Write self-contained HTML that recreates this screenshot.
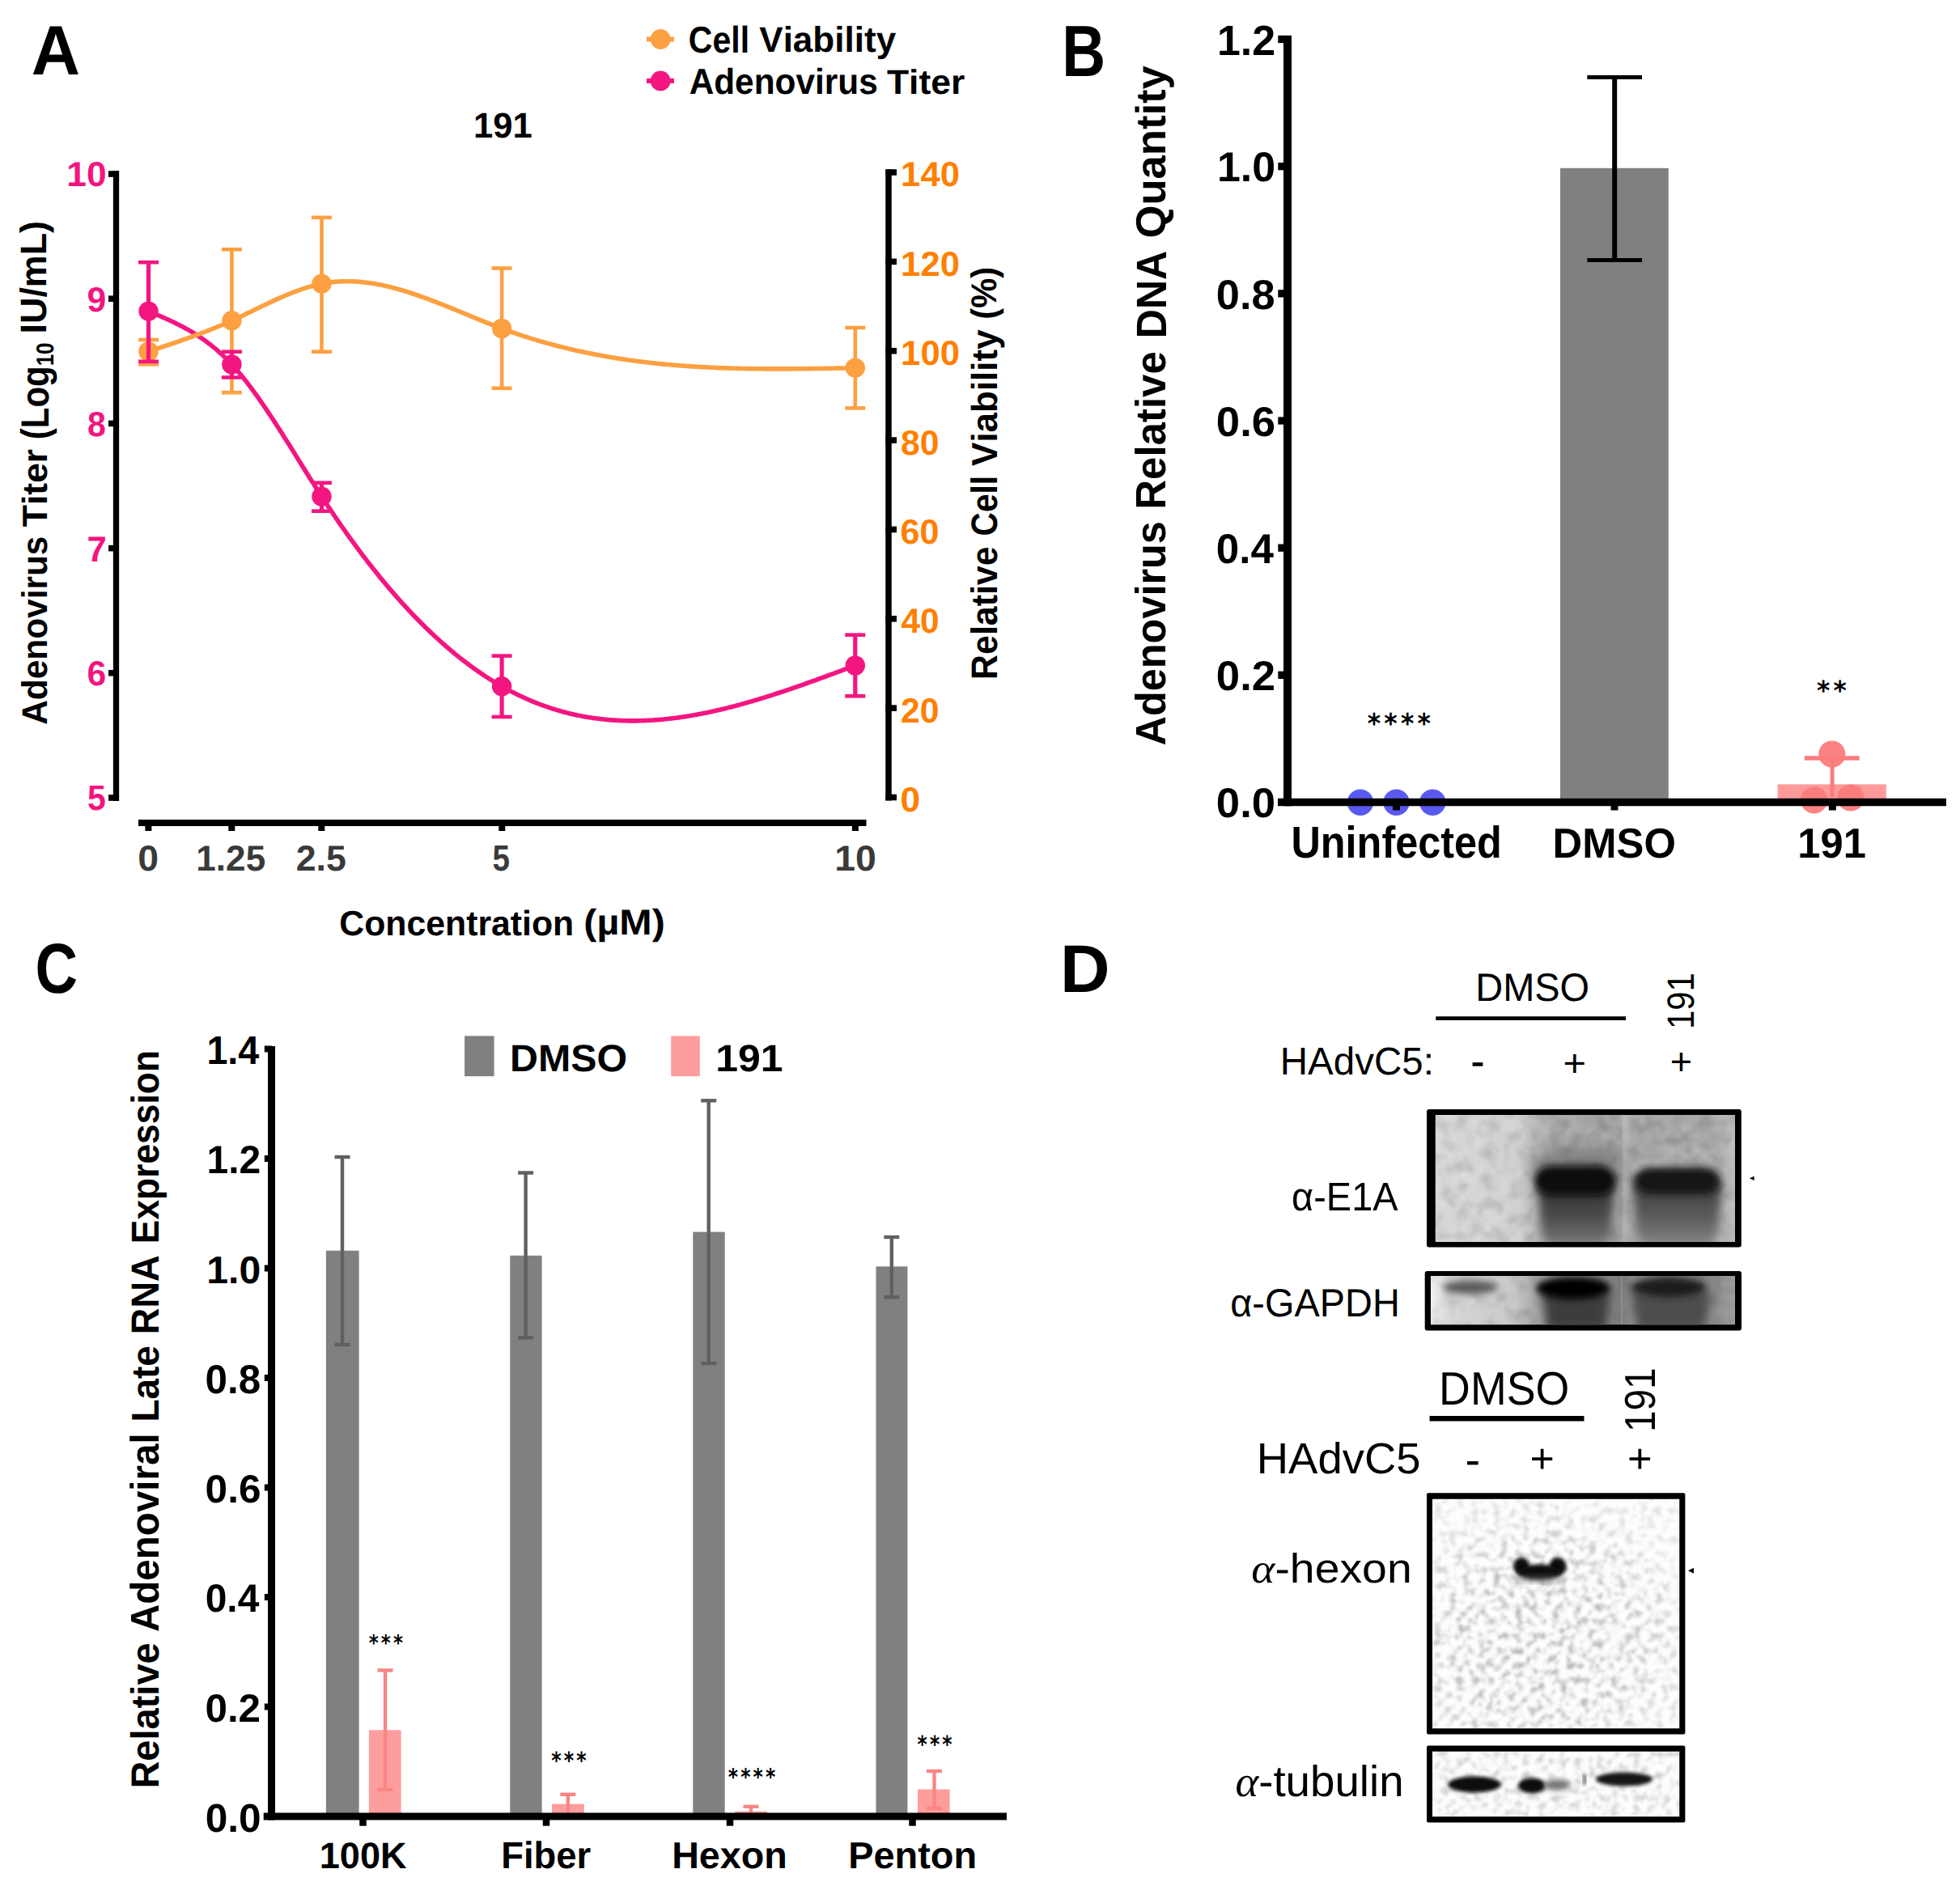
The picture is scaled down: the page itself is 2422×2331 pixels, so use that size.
<!DOCTYPE html>
<html><head><meta charset="utf-8"><title>Figure</title>
<style>html,body{margin:0;padding:0;background:#fff;}svg{display:block;font-kerning:none;text-rendering:geometricPrecision;}</style>
</head><body>
<svg xmlns="http://www.w3.org/2000/svg" width="2422" height="2331" viewBox="0 0 2422 2331">
<rect width="2422" height="2331" fill="#fff"/>
<text font-family='"Liberation Sans", sans-serif' font-weight="bold" font-style="normal" font-size="100" fill="#000" transform="translate(38.80,91.80) scale(0.8348,0.8652)">A</text>
<line x1="799" y1="48.5" x2="833" y2="48.5" stroke="#FCA042" stroke-width="6" stroke-linecap="butt"/>
<circle cx="816.2" cy="48.5" r="12.4" fill="#FCA042" />
<line x1="799" y1="99.9" x2="833" y2="99.9" stroke="#F41680" stroke-width="6" stroke-linecap="butt"/>
<circle cx="816.2" cy="99.9" r="12.4" fill="#F41680" />
<text font-family='"Liberation Sans", sans-serif' font-weight="bold" font-style="normal" font-size="100" fill="#000" transform="translate(850.76,65.04) scale(0.4105,0.4616)">Cell</text>
<text font-family='"Liberation Sans", sans-serif' font-weight="bold" font-style="normal" font-size="100" fill="#000" transform="translate(938.26,63.54) scale(0.4404,0.4409)">Viability</text>
<text font-family='"Liberation Sans", sans-serif' font-weight="bold" font-style="normal" font-size="100" fill="#000" transform="translate(851.63,115.95) scale(0.4238,0.4452)">Adenovirus</text>
<text font-family='"Liberation Sans", sans-serif' font-weight="bold" font-style="normal" font-size="100" fill="#000" transform="translate(1095.96,115.77) scale(0.4439,0.4260)">Titer</text>
<text font-family='"Liberation Sans", sans-serif' font-weight="bold" font-style="normal" font-size="100" fill="#000" transform="translate(584.88,169.96) scale(0.4361,0.4380)">191</text>
<line x1="143.5" y1="211" x2="143.5" y2="990" stroke="#000" stroke-width="7.3" stroke-linecap="butt"/>
<line x1="134" y1="215.0" x2="147" y2="215.0" stroke="#000" stroke-width="7.6" stroke-linecap="butt"/>
<line x1="134" y1="369.2" x2="147" y2="369.2" stroke="#000" stroke-width="7.6" stroke-linecap="butt"/>
<line x1="134" y1="523.4" x2="147" y2="523.4" stroke="#000" stroke-width="7.6" stroke-linecap="butt"/>
<line x1="134" y1="677.5999999999999" x2="147" y2="677.5999999999999" stroke="#000" stroke-width="7.6" stroke-linecap="butt"/>
<line x1="134" y1="831.8" x2="147" y2="831.8" stroke="#000" stroke-width="7.6" stroke-linecap="butt"/>
<line x1="134" y1="986.0" x2="147" y2="986.0" stroke="#000" stroke-width="7.6" stroke-linecap="butt"/>
<line x1="1098" y1="209.5" x2="1098" y2="989.5" stroke="#000" stroke-width="7.5" stroke-linecap="butt"/>
<line x1="1094.5" y1="985.5" x2="1108" y2="985.5" stroke="#000" stroke-width="7.6" stroke-linecap="butt"/>
<line x1="1094.5" y1="875.1428571428571" x2="1108" y2="875.1428571428571" stroke="#000" stroke-width="7.6" stroke-linecap="butt"/>
<line x1="1094.5" y1="764.7857142857142" x2="1108" y2="764.7857142857142" stroke="#000" stroke-width="7.6" stroke-linecap="butt"/>
<line x1="1094.5" y1="654.4285714285713" x2="1108" y2="654.4285714285713" stroke="#000" stroke-width="7.6" stroke-linecap="butt"/>
<line x1="1094.5" y1="544.0714285714286" x2="1108" y2="544.0714285714286" stroke="#000" stroke-width="7.6" stroke-linecap="butt"/>
<line x1="1094.5" y1="433.71428571428567" x2="1108" y2="433.71428571428567" stroke="#000" stroke-width="7.6" stroke-linecap="butt"/>
<line x1="1094.5" y1="323.3571428571428" x2="1108" y2="323.3571428571428" stroke="#000" stroke-width="7.6" stroke-linecap="butt"/>
<line x1="1094.5" y1="213.0" x2="1108" y2="213.0" stroke="#000" stroke-width="7.6" stroke-linecap="butt"/>
<line x1="171" y1="1017" x2="1070.5" y2="1017" stroke="#000" stroke-width="8" stroke-linecap="butt"/>
<line x1="183.4" y1="1013" x2="183.4" y2="1027" stroke="#000" stroke-width="8" stroke-linecap="butt"/>
<line x1="286.3" y1="1013" x2="286.3" y2="1027" stroke="#000" stroke-width="8" stroke-linecap="butt"/>
<line x1="397.3" y1="1013" x2="397.3" y2="1027" stroke="#000" stroke-width="8" stroke-linecap="butt"/>
<line x1="620.3" y1="1013" x2="620.3" y2="1027" stroke="#000" stroke-width="8" stroke-linecap="butt"/>
<line x1="1056.9" y1="1013" x2="1056.9" y2="1027" stroke="#000" stroke-width="8" stroke-linecap="butt"/>
<path d="M183.50,384.60 L185.69,385.52 L187.88,386.44 L190.07,387.36 L192.25,388.29 L194.44,389.22 L196.63,390.16 L198.82,391.11 L201.01,392.07 L203.20,393.03 L205.39,394.01 L207.58,395.00 L209.76,396.01 L211.95,397.03 L214.14,398.07 L216.33,399.13 L218.52,400.20 L220.71,401.30 L222.90,402.42 L225.09,403.56 L227.27,404.73 L229.46,405.92 L231.65,407.14 L233.84,408.39 L236.03,409.67 L238.22,410.98 L240.41,412.32 L242.60,413.70 L244.78,415.11 L246.97,416.56 L249.16,418.05 L251.35,419.57 L253.54,421.14 L255.73,422.75 L257.92,424.40 L260.11,426.09 L262.29,427.84 L264.48,429.62 L266.67,431.46 L268.86,433.34 L271.05,435.28 L273.24,437.27 L275.43,439.31 L277.62,441.41 L279.80,443.56 L281.99,445.77 L284.18,448.04 L286.37,450.37 L288.56,452.76 L290.75,455.21 L292.94,457.71 L295.12,460.28 L297.31,462.89 L299.50,465.57 L301.69,468.29 L303.88,471.06 L306.07,473.88 L308.26,476.75 L310.45,479.66 L312.63,482.62 L314.82,485.62 L317.01,488.66 L319.20,491.73 L321.39,494.85 L323.58,498.00 L325.77,501.18 L327.96,504.39 L330.14,507.64 L332.33,510.91 L334.52,514.21 L336.71,517.54 L338.90,520.89 L341.09,524.27 L343.28,527.66 L345.47,531.07 L347.65,534.50 L349.84,537.95 L352.03,541.41 L354.22,544.88 L356.41,548.36 L358.60,551.86 L360.79,555.36 L362.98,558.86 L365.16,562.37 L367.35,565.89 L369.54,569.40 L371.73,572.92 L373.92,576.43 L376.11,579.94 L378.30,583.44 L380.48,586.94 L382.67,590.43 L384.86,593.90 L387.05,597.37 L389.24,600.82 L391.43,604.26 L393.62,607.68 L395.81,611.08 L397.99,614.46 L400.18,617.82 L402.37,621.16 L404.56,624.48 L406.75,627.78 L408.94,631.06 L411.13,634.31 L413.32,637.55 L415.50,640.76 L417.69,643.95 L419.88,647.12 L422.07,650.27 L424.26,653.40 L426.45,656.50 L428.64,659.59 L430.83,662.65 L433.01,665.70 L435.20,668.72 L437.39,671.72 L439.58,674.70 L441.77,677.66 L443.96,680.60 L446.15,683.52 L448.34,686.41 L450.52,689.29 L452.71,692.14 L454.90,694.97 L457.09,697.78 L459.28,700.57 L461.47,703.34 L463.66,706.09 L465.85,708.82 L468.03,711.52 L470.22,714.21 L472.41,716.87 L474.60,719.52 L476.79,722.14 L478.98,724.74 L481.17,727.32 L483.35,729.88 L485.54,732.41 L487.73,734.93 L489.92,737.43 L492.11,739.90 L494.30,742.36 L496.49,744.79 L498.68,747.20 L500.86,749.59 L503.05,751.96 L505.24,754.31 L507.43,756.64 L509.62,758.95 L511.81,761.23 L514.00,763.50 L516.19,765.74 L518.37,767.96 L520.56,770.17 L522.75,772.35 L524.94,774.51 L527.13,776.65 L529.32,778.77 L531.51,780.87 L533.70,782.94 L535.88,785.00 L538.07,787.03 L540.26,789.05 L542.45,791.04 L544.64,793.01 L546.83,794.97 L549.02,796.90 L551.21,798.81 L553.39,800.70 L555.58,802.56 L557.77,804.41 L559.96,806.24 L562.15,808.04 L564.34,809.83 L566.53,811.59 L568.72,813.34 L570.90,815.06 L573.09,816.76 L575.28,818.44 L577.47,820.10 L579.66,821.74 L581.85,823.36 L584.04,824.96 L586.22,826.53 L588.41,828.09 L590.60,829.63 L592.79,831.14 L594.98,832.64 L597.17,834.11 L599.36,835.56 L601.55,836.99 L603.73,838.40 L605.92,839.80 L608.11,841.16 L610.30,842.51 L612.49,843.84 L614.68,845.15 L616.87,846.44 L619.06,847.70 L621.24,848.95 L623.43,850.17 L625.62,851.38 L627.81,852.56 L630.00,853.73 L632.19,854.87 L634.38,855.99 L636.57,857.10 L638.75,858.18 L640.94,859.24 L643.13,860.29 L645.32,861.31 L647.51,862.32 L649.70,863.30 L651.89,864.27 L654.08,865.22 L656.26,866.14 L658.45,867.05 L660.64,867.94 L662.83,868.81 L665.02,869.67 L667.21,870.50 L669.40,871.32 L671.58,872.11 L673.77,872.89 L675.96,873.65 L678.15,874.40 L680.34,875.12 L682.53,875.83 L684.72,876.52 L686.91,877.19 L689.09,877.85 L691.28,878.48 L693.47,879.10 L695.66,879.70 L697.85,880.29 L700.04,880.86 L702.23,881.41 L704.42,881.94 L706.60,882.46 L708.79,882.96 L710.98,883.45 L713.17,883.92 L715.36,884.37 L717.55,884.81 L719.74,885.23 L721.93,885.63 L724.11,886.02 L726.30,886.39 L728.49,886.75 L730.68,887.09 L732.87,887.41 L735.06,887.72 L737.25,888.02 L739.44,888.30 L741.62,888.56 L743.81,888.82 L746.00,889.05 L748.19,889.27 L750.38,889.48 L752.57,889.67 L754.76,889.85 L756.95,890.01 L759.13,890.16 L761.32,890.29 L763.51,890.41 L765.70,890.52 L767.89,890.61 L770.08,890.69 L772.27,890.76 L774.45,890.81 L776.64,890.85 L778.83,890.87 L781.02,890.88 L783.21,890.88 L785.40,890.87 L787.59,890.84 L789.78,890.80 L791.96,890.75 L794.15,890.69 L796.34,890.61 L798.53,890.52 L800.72,890.42 L802.91,890.31 L805.10,890.18 L807.29,890.04 L809.47,889.89 L811.66,889.73 L813.85,889.56 L816.04,889.38 L818.23,889.18 L820.42,888.97 L822.61,888.76 L824.80,888.53 L826.98,888.29 L829.17,888.03 L831.36,887.77 L833.55,887.50 L835.74,887.22 L837.93,886.92 L840.12,886.62 L842.31,886.31 L844.49,885.98 L846.68,885.65 L848.87,885.30 L851.06,884.95 L853.25,884.58 L855.44,884.21 L857.63,883.83 L859.82,883.44 L862.00,883.03 L864.19,882.62 L866.38,882.20 L868.57,881.77 L870.76,881.33 L872.95,880.89 L875.14,880.43 L877.32,879.97 L879.51,879.50 L881.70,879.01 L883.89,878.52 L886.08,878.03 L888.27,877.52 L890.46,877.01 L892.65,876.49 L894.83,875.96 L897.02,875.42 L899.21,874.88 L901.40,874.32 L903.59,873.76 L905.78,873.20 L907.97,872.62 L910.16,872.04 L912.34,871.45 L914.53,870.86 L916.72,870.26 L918.91,869.65 L921.10,869.04 L923.29,868.41 L925.48,867.79 L927.67,867.15 L929.85,866.51 L932.04,865.87 L934.23,865.22 L936.42,864.56 L938.61,863.90 L940.80,863.23 L942.99,862.55 L945.18,861.87 L947.36,861.19 L949.55,860.50 L951.74,859.80 L953.93,859.10 L956.12,858.40 L958.31,857.69 L960.50,856.98 L962.68,856.26 L964.87,855.53 L967.06,854.81 L969.25,854.07 L971.44,853.34 L973.63,852.60 L975.82,851.85 L978.01,851.11 L980.19,850.35 L982.38,849.60 L984.57,848.84 L986.76,848.08 L988.95,847.31 L991.14,846.54 L993.33,845.77 L995.52,845.00 L997.70,844.22 L999.89,843.44 L1002.08,842.65 L1004.27,841.87 L1006.46,841.08 L1008.65,840.29 L1010.84,839.50 L1013.03,838.70 L1015.21,837.90 L1017.40,837.10 L1019.59,836.30 L1021.78,835.50 L1023.97,834.70 L1026.16,833.89 L1028.35,833.08 L1030.54,832.27 L1032.72,831.46 L1034.91,830.65 L1037.10,829.84 L1039.29,829.03 L1041.48,828.21 L1043.67,827.40 L1045.86,826.58 L1048.05,825.77 L1050.23,824.95 L1052.42,824.13 L1054.61,823.32 L1056.80,822.50" fill="none" stroke="#F41680" stroke-width="5.6" stroke-linejoin="round"/>
<path d="M183.50,434.50 L185.69,433.78 L187.88,433.05 L190.07,432.33 L192.25,431.60 L194.44,430.87 L196.63,430.14 L198.82,429.41 L201.01,428.68 L203.20,427.95 L205.39,427.21 L207.58,426.48 L209.76,425.74 L211.95,424.99 L214.14,424.25 L216.33,423.50 L218.52,422.74 L220.71,421.99 L222.90,421.23 L225.09,420.46 L227.27,419.69 L229.46,418.92 L231.65,418.14 L233.84,417.35 L236.03,416.56 L238.22,415.76 L240.41,414.96 L242.60,414.15 L244.78,413.34 L246.97,412.52 L249.16,411.69 L251.35,410.85 L253.54,410.01 L255.73,409.16 L257.92,408.30 L260.11,407.43 L262.29,406.56 L264.48,405.68 L266.67,404.78 L268.86,403.88 L271.05,402.97 L273.24,402.05 L275.43,401.12 L277.62,400.18 L279.80,399.23 L281.99,398.27 L284.18,397.30 L286.37,396.31 L288.56,395.32 L290.75,394.32 L292.94,393.30 L295.12,392.28 L297.31,391.25 L299.50,390.21 L301.69,389.17 L303.88,388.12 L306.07,387.07 L308.26,386.01 L310.45,384.96 L312.63,383.90 L314.82,382.84 L317.01,381.78 L319.20,380.72 L321.39,379.66 L323.58,378.60 L325.77,377.55 L327.96,376.51 L330.14,375.46 L332.33,374.43 L334.52,373.40 L336.71,372.38 L338.90,371.37 L341.09,370.37 L343.28,369.38 L345.47,368.40 L347.65,367.43 L349.84,366.48 L352.03,365.54 L354.22,364.61 L356.41,363.70 L358.60,362.81 L360.79,361.94 L362.98,361.08 L365.16,360.24 L367.35,359.43 L369.54,358.63 L371.73,357.86 L373.92,357.11 L376.11,356.38 L378.30,355.68 L380.48,355.00 L382.67,354.35 L384.86,353.73 L387.05,353.13 L389.24,352.56 L391.43,352.03 L393.62,351.52 L395.81,351.05 L397.99,350.60 L400.18,350.19 L402.37,349.82 L404.56,349.47 L406.75,349.16 L408.94,348.88 L411.13,348.63 L413.32,348.41 L415.50,348.22 L417.69,348.06 L419.88,347.93 L422.07,347.83 L424.26,347.75 L426.45,347.71 L428.64,347.69 L430.83,347.70 L433.01,347.74 L435.20,347.80 L437.39,347.89 L439.58,348.00 L441.77,348.14 L443.96,348.31 L446.15,348.50 L448.34,348.71 L450.52,348.95 L452.71,349.21 L454.90,349.49 L457.09,349.80 L459.28,350.12 L461.47,350.47 L463.66,350.84 L465.85,351.23 L468.03,351.64 L470.22,352.07 L472.41,352.52 L474.60,352.99 L476.79,353.48 L478.98,353.99 L481.17,354.51 L483.35,355.05 L485.54,355.61 L487.73,356.19 L489.92,356.78 L492.11,357.39 L494.30,358.01 L496.49,358.65 L498.68,359.30 L500.86,359.96 L503.05,360.64 L505.24,361.34 L507.43,362.04 L509.62,362.76 L511.81,363.49 L514.00,364.24 L516.19,364.99 L518.37,365.75 L520.56,366.53 L522.75,367.31 L524.94,368.11 L527.13,368.91 L529.32,369.73 L531.51,370.55 L533.70,371.38 L535.88,372.22 L538.07,373.06 L540.26,373.91 L542.45,374.77 L544.64,375.63 L546.83,376.50 L549.02,377.37 L551.21,378.25 L553.39,379.14 L555.58,380.02 L557.77,380.91 L559.96,381.81 L562.15,382.70 L564.34,383.60 L566.53,384.50 L568.72,385.41 L570.90,386.31 L573.09,387.21 L575.28,388.12 L577.47,389.02 L579.66,389.92 L581.85,390.82 L584.04,391.73 L586.22,392.62 L588.41,393.52 L590.60,394.42 L592.79,395.31 L594.98,396.19 L597.17,397.08 L599.36,397.96 L601.55,398.83 L603.73,399.70 L605.92,400.56 L608.11,401.42 L610.30,402.27 L612.49,403.12 L614.68,403.96 L616.87,404.79 L619.06,405.61 L621.24,406.42 L623.43,407.23 L625.62,408.03 L627.81,408.82 L630.00,409.60 L632.19,410.37 L634.38,411.13 L636.57,411.89 L638.75,412.63 L640.94,413.37 L643.13,414.10 L645.32,414.82 L647.51,415.54 L649.70,416.24 L651.89,416.94 L654.08,417.63 L656.26,418.32 L658.45,418.99 L660.64,419.66 L662.83,420.32 L665.02,420.97 L667.21,421.61 L669.40,422.25 L671.58,422.87 L673.77,423.50 L675.96,424.11 L678.15,424.71 L680.34,425.31 L682.53,425.90 L684.72,426.49 L686.91,427.06 L689.09,427.63 L691.28,428.19 L693.47,428.75 L695.66,429.30 L697.85,429.84 L700.04,430.37 L702.23,430.90 L704.42,431.42 L706.60,431.93 L708.79,432.43 L710.98,432.93 L713.17,433.42 L715.36,433.91 L717.55,434.39 L719.74,434.86 L721.93,435.32 L724.11,435.78 L726.30,436.24 L728.49,436.68 L730.68,437.12 L732.87,437.55 L735.06,437.98 L737.25,438.40 L739.44,438.81 L741.62,439.22 L743.81,439.62 L746.00,440.02 L748.19,440.41 L750.38,440.79 L752.57,441.17 L754.76,441.54 L756.95,441.90 L759.13,442.26 L761.32,442.62 L763.51,442.96 L765.70,443.30 L767.89,443.64 L770.08,443.97 L772.27,444.30 L774.45,444.62 L776.64,444.93 L778.83,445.24 L781.02,445.54 L783.21,445.84 L785.40,446.13 L787.59,446.42 L789.78,446.70 L791.96,446.97 L794.15,447.25 L796.34,447.51 L798.53,447.77 L800.72,448.03 L802.91,448.28 L805.10,448.52 L807.29,448.76 L809.47,449.00 L811.66,449.23 L813.85,449.46 L816.04,449.68 L818.23,449.89 L820.42,450.11 L822.61,450.31 L824.80,450.52 L826.98,450.71 L829.17,450.91 L831.36,451.10 L833.55,451.28 L835.74,451.46 L837.93,451.64 L840.12,451.81 L842.31,451.98 L844.49,452.14 L846.68,452.30 L848.87,452.45 L851.06,452.61 L853.25,452.75 L855.44,452.90 L857.63,453.03 L859.82,453.17 L862.00,453.30 L864.19,453.43 L866.38,453.55 L868.57,453.67 L870.76,453.79 L872.95,453.90 L875.14,454.01 L877.32,454.11 L879.51,454.21 L881.70,454.31 L883.89,454.41 L886.08,454.50 L888.27,454.59 L890.46,454.67 L892.65,454.75 L894.83,454.83 L897.02,454.91 L899.21,454.98 L901.40,455.05 L903.59,455.11 L905.78,455.18 L907.97,455.24 L910.16,455.29 L912.34,455.35 L914.53,455.40 L916.72,455.45 L918.91,455.49 L921.10,455.54 L923.29,455.58 L925.48,455.61 L927.67,455.65 L929.85,455.68 L932.04,455.71 L934.23,455.74 L936.42,455.76 L938.61,455.79 L940.80,455.81 L942.99,455.82 L945.18,455.84 L947.36,455.85 L949.55,455.87 L951.74,455.88 L953.93,455.88 L956.12,455.89 L958.31,455.89 L960.50,455.89 L962.68,455.89 L964.87,455.89 L967.06,455.89 L969.25,455.88 L971.44,455.87 L973.63,455.86 L975.82,455.85 L978.01,455.84 L980.19,455.83 L982.38,455.81 L984.57,455.80 L986.76,455.78 L988.95,455.76 L991.14,455.74 L993.33,455.71 L995.52,455.69 L997.70,455.67 L999.89,455.64 L1002.08,455.61 L1004.27,455.58 L1006.46,455.56 L1008.65,455.53 L1010.84,455.49 L1013.03,455.46 L1015.21,455.43 L1017.40,455.40 L1019.59,455.36 L1021.78,455.33 L1023.97,455.29 L1026.16,455.25 L1028.35,455.22 L1030.54,455.18 L1032.72,455.14 L1034.91,455.10 L1037.10,455.06 L1039.29,455.02 L1041.48,454.98 L1043.67,454.94 L1045.86,454.90 L1048.05,454.86 L1050.23,454.82 L1052.42,454.78 L1054.61,454.74 L1056.80,454.70" fill="none" stroke="#FCA042" stroke-width="5.6" stroke-linejoin="round"/>
<line x1="183.5" y1="420.0" x2="183.5" y2="450.3" stroke="#FCA042" stroke-width="4.6" stroke-linecap="butt"/>
<line x1="171.0" y1="420.0" x2="196.0" y2="420.0" stroke="#FCA042" stroke-width="4.6" stroke-linecap="butt"/>
<line x1="171.0" y1="450.3" x2="196.0" y2="450.3" stroke="#FCA042" stroke-width="4.6" stroke-linecap="butt"/>
<circle cx="183.5" cy="434.5" r="12.2" fill="#FCA042" />
<line x1="286.4" y1="308.3" x2="286.4" y2="485.2" stroke="#FCA042" stroke-width="4.6" stroke-linecap="butt"/>
<line x1="273.9" y1="308.3" x2="298.9" y2="308.3" stroke="#FCA042" stroke-width="4.6" stroke-linecap="butt"/>
<line x1="273.9" y1="485.2" x2="298.9" y2="485.2" stroke="#FCA042" stroke-width="4.6" stroke-linecap="butt"/>
<circle cx="286.4" cy="396.3" r="12.2" fill="#FCA042" />
<line x1="397.5" y1="268.8" x2="397.5" y2="434.7" stroke="#FCA042" stroke-width="4.6" stroke-linecap="butt"/>
<line x1="385.0" y1="268.8" x2="410.0" y2="268.8" stroke="#FCA042" stroke-width="4.6" stroke-linecap="butt"/>
<line x1="385.0" y1="434.7" x2="410.0" y2="434.7" stroke="#FCA042" stroke-width="4.6" stroke-linecap="butt"/>
<circle cx="397.5" cy="350.7" r="12.2" fill="#FCA042" />
<line x1="620.1" y1="331.5" x2="620.1" y2="479.8" stroke="#FCA042" stroke-width="4.6" stroke-linecap="butt"/>
<line x1="607.6" y1="331.5" x2="632.6" y2="331.5" stroke="#FCA042" stroke-width="4.6" stroke-linecap="butt"/>
<line x1="607.6" y1="479.8" x2="632.6" y2="479.8" stroke="#FCA042" stroke-width="4.6" stroke-linecap="butt"/>
<circle cx="620.1" cy="406.0" r="12.2" fill="#FCA042" />
<line x1="1056.8" y1="405.0" x2="1056.8" y2="504.4" stroke="#FCA042" stroke-width="4.6" stroke-linecap="butt"/>
<line x1="1044.3" y1="405.0" x2="1069.3" y2="405.0" stroke="#FCA042" stroke-width="4.6" stroke-linecap="butt"/>
<line x1="1044.3" y1="504.4" x2="1069.3" y2="504.4" stroke="#FCA042" stroke-width="4.6" stroke-linecap="butt"/>
<circle cx="1056.8" cy="454.7" r="12.2" fill="#FCA042" />
<line x1="183.5" y1="324.2" x2="183.5" y2="446.8" stroke="#F41680" stroke-width="5.2" stroke-linecap="butt"/>
<line x1="171.0" y1="324.2" x2="196.0" y2="324.2" stroke="#F41680" stroke-width="4.6" stroke-linecap="butt"/>
<line x1="171.0" y1="446.8" x2="196.0" y2="446.8" stroke="#F41680" stroke-width="4.6" stroke-linecap="butt"/>
<circle cx="183.5" cy="384.6" r="12.2" fill="#F41680" />
<line x1="286.4" y1="434.7" x2="286.4" y2="466.5" stroke="#F41680" stroke-width="5.2" stroke-linecap="butt"/>
<line x1="273.9" y1="434.7" x2="298.9" y2="434.7" stroke="#F41680" stroke-width="4.6" stroke-linecap="butt"/>
<line x1="273.9" y1="466.5" x2="298.9" y2="466.5" stroke="#F41680" stroke-width="4.6" stroke-linecap="butt"/>
<circle cx="286.4" cy="450.4" r="12.2" fill="#F41680" />
<line x1="397.5" y1="596.7" x2="397.5" y2="631.7" stroke="#F41680" stroke-width="5.2" stroke-linecap="butt"/>
<line x1="385.0" y1="596.7" x2="410.0" y2="596.7" stroke="#F41680" stroke-width="4.6" stroke-linecap="butt"/>
<line x1="385.0" y1="631.7" x2="410.0" y2="631.7" stroke="#F41680" stroke-width="4.6" stroke-linecap="butt"/>
<circle cx="397.5" cy="613.7" r="12.2" fill="#F41680" />
<line x1="620.1" y1="810.6" x2="620.1" y2="886.0" stroke="#F41680" stroke-width="5.2" stroke-linecap="butt"/>
<line x1="607.6" y1="810.6" x2="632.6" y2="810.6" stroke="#F41680" stroke-width="4.6" stroke-linecap="butt"/>
<line x1="607.6" y1="886.0" x2="632.6" y2="886.0" stroke="#F41680" stroke-width="4.6" stroke-linecap="butt"/>
<circle cx="620.1" cy="848.3" r="12.2" fill="#F41680" />
<line x1="1056.8" y1="784.7" x2="1056.8" y2="860.3" stroke="#F41680" stroke-width="5.2" stroke-linecap="butt"/>
<line x1="1044.3" y1="784.7" x2="1069.3" y2="784.7" stroke="#F41680" stroke-width="4.6" stroke-linecap="butt"/>
<line x1="1044.3" y1="860.3" x2="1069.3" y2="860.3" stroke="#F41680" stroke-width="4.6" stroke-linecap="butt"/>
<circle cx="1056.8" cy="822.5" r="12.2" fill="#F41680" />
<text font-family='"Liberation Sans", sans-serif' font-weight="bold" font-style="normal" font-size="100" fill="#F41480" transform="translate(82.34,230.47) scale(0.4426,0.4310)">10</text>
<text font-family='"Liberation Sans", sans-serif' font-weight="bold" font-style="normal" font-size="100" fill="#F41480" transform="translate(107.49,384.67) scale(0.4271,0.4310)">9</text>
<text font-family='"Liberation Sans", sans-serif' font-weight="bold" font-style="normal" font-size="100" fill="#F41480" transform="translate(107.97,538.87) scale(0.4100,0.4310)">8</text>
<text font-family='"Liberation Sans", sans-serif' font-weight="bold" font-style="normal" font-size="100" fill="#F41480" transform="translate(107.46,693.50) scale(0.4362,0.4435)">7</text>
<text font-family='"Liberation Sans", sans-serif' font-weight="bold" font-style="normal" font-size="100" fill="#F41480" transform="translate(107.49,847.27) scale(0.4271,0.4310)">6</text>
<text font-family='"Liberation Sans", sans-serif' font-weight="bold" font-style="normal" font-size="100" fill="#F41480" transform="translate(107.97,1001.46) scale(0.4100,0.4371)">5</text>
<text font-family='"Liberation Sans", sans-serif' font-weight="bold" font-style="normal" font-size="100" fill="#FF7F00" transform="translate(1112.53,1002.97) scale(0.4426,0.4310)">0</text>
<text font-family='"Liberation Sans", sans-serif' font-weight="bold" font-style="normal" font-size="100" fill="#FF7F00" transform="translate(1113.02,892.61) scale(0.4279,0.4310)">20</text>
<text font-family='"Liberation Sans", sans-serif' font-weight="bold" font-style="normal" font-size="100" fill="#FF7F00" transform="translate(1113.45,782.25) scale(0.4238,0.4310)">40</text>
<text font-family='"Liberation Sans", sans-serif' font-weight="bold" font-style="normal" font-size="100" fill="#FF7F00" transform="translate(1112.57,671.90) scale(0.4320,0.4310)">60</text>
<text font-family='"Liberation Sans", sans-serif' font-weight="bold" font-style="normal" font-size="100" fill="#FF7F00" transform="translate(1113.02,561.54) scale(0.4279,0.4310)">80</text>
<text font-family='"Liberation Sans", sans-serif' font-weight="bold" font-style="normal" font-size="100" fill="#FF7F00" transform="translate(1113.08,451.18) scale(0.4369,0.4310)">100</text>
<text font-family='"Liberation Sans", sans-serif' font-weight="bold" font-style="normal" font-size="100" fill="#FF7F00" transform="translate(1113.08,340.83) scale(0.4369,0.4310)">120</text>
<text font-family='"Liberation Sans", sans-serif' font-weight="bold" font-style="normal" font-size="100" fill="#FF7F00" transform="translate(1113.08,230.47) scale(0.4369,0.4310)">140</text>
<text font-family='"Liberation Sans", sans-serif' font-weight="bold" font-style="normal" font-size="100" fill="#3a3a3a" transform="translate(170.14,1076.06) scale(0.4638,0.4437)">0</text>
<text font-family='"Liberation Sans", sans-serif' font-weight="bold" font-style="normal" font-size="100" fill="#3a3a3a" transform="translate(242.35,1076.06) scale(0.4409,0.4437)">1.25</text>
<text font-family='"Liberation Sans", sans-serif' font-weight="bold" font-style="normal" font-size="100" fill="#3a3a3a" transform="translate(365.66,1076.06) scale(0.4466,0.4437)">2.5</text>
<text font-family='"Liberation Sans", sans-serif' font-weight="bold" font-style="normal" font-size="100" fill="#3a3a3a" transform="translate(608.54,1076.05) scale(0.3860,0.4500)">5</text>
<text font-family='"Liberation Sans", sans-serif' font-weight="bold" font-style="normal" font-size="100" fill="#3a3a3a" transform="translate(1031.21,1076.06) scale(0.4653,0.4437)">10</text>
<text font-family='"Liberation Sans", sans-serif' font-weight="bold" font-style="normal" font-size="100" fill="#000" transform="translate(419.29,1156.07) scale(0.4278,0.4342)">Concentration</text>
<text font-family='"Liberation Sans", sans-serif' font-weight="bold" font-style="normal" font-size="100" fill="#000" transform="translate(721.28,1154.77) scale(0.4843,0.4441)">(µM)</text>
<text font-family='"Liberation Sans", sans-serif' font-weight="bold" font-style="normal" font-size="100" fill="#000" transform="translate(58.26,895.77) rotate(-90) scale(0.4239,0.4411)">Adenovirus</text>
<text font-family='"Liberation Sans", sans-serif' font-weight="bold" font-style="normal" font-size="100" fill="#000" transform="translate(58.17,651.14) rotate(-90) scale(0.4444,0.4329)">Titer</text>
<text font-family='"Liberation Sans", sans-serif' font-weight="bold" font-style="normal" font-size="100" fill="#000" transform="translate(59.59,543.20) rotate(-90) scale(0.4194,0.4860)">(Log<tspan font-size="62" dy="14">10</tspan></text>
<text font-family='"Liberation Sans", sans-serif' font-weight="bold" font-style="normal" font-size="100" fill="#000" transform="translate(57.25,412.44) rotate(-90) scale(0.4482,0.4548)">IU/mL)</text>
<text font-family='"Liberation Sans", sans-serif' font-weight="bold" font-style="normal" font-size="100" fill="#000" transform="translate(1232.15,839.90) rotate(-90) scale(0.4287,0.4548)">Relative</text>
<text font-family='"Liberation Sans", sans-serif' font-weight="bold" font-style="normal" font-size="100" fill="#000" transform="translate(1232.15,662.43) rotate(-90) scale(0.4064,0.4548)">Cell</text>
<text font-family='"Liberation Sans", sans-serif' font-weight="bold" font-style="normal" font-size="100" fill="#000" transform="translate(1231.53,575.94) rotate(-90) scale(0.4396,0.4462)">Viability</text>
<text font-family='"Liberation Sans", sans-serif' font-weight="bold" font-style="normal" font-size="100" fill="#000" transform="translate(1230.72,394.68) rotate(-90) scale(0.4158,0.4419)">(%)</text>
<text font-family='"Liberation Sans", sans-serif' font-weight="bold" font-style="normal" font-size="100" fill="#000" transform="translate(1312.28,93.80) scale(0.7459,0.8986)">B</text>
<rect x="1928.0" y="207.8" width="133.80" height="783.80" fill="#808080" />
<line x1="1995.2" y1="95.4" x2="1995.2" y2="321.4" stroke="#000" stroke-width="6" stroke-linecap="butt"/>
<line x1="1961.3500000000001" y1="95.4" x2="2029.05" y2="95.4" stroke="#000" stroke-width="5" stroke-linecap="butt"/>
<line x1="1961.3500000000001" y1="321.4" x2="2029.05" y2="321.4" stroke="#000" stroke-width="5" stroke-linecap="butt"/>
<rect x="2196.6" y="969.4" width="134.20" height="22.20" fill="#FD9B9B" />
<line x1="2264.1" y1="937" x2="2264.1" y2="985" stroke="#FB7C7C" stroke-width="5" stroke-linecap="butt"/>
<line x1="2229.8" y1="937" x2="2297.6" y2="937" stroke="#FB7C7C" stroke-width="5.5" stroke-linecap="butt"/>
<circle cx="1681.0" cy="991.7" r="16.2" fill="#5A5AF2" />
<circle cx="1725.5" cy="991.7" r="16.2" fill="#5A5AF2" />
<circle cx="1770.3" cy="991.7" r="16.2" fill="#5A5AF2" />
<circle cx="2263.8" cy="932.1" r="16.6" fill="#FB7C7C" fill-opacity="0.95"/>
<circle cx="2241.7" cy="988.8" r="16.6" fill="#FB7C7C" fill-opacity="0.95"/>
<circle cx="2287.0" cy="986.0" r="16.6" fill="#FB7C7C" fill-opacity="0.95"/>
<line x1="1591" y1="43.9" x2="1591" y2="996.2" stroke="#000" stroke-width="10" stroke-linecap="butt"/>
<line x1="1579.3" y1="48.480000000000246" x2="1596" y2="48.480000000000246" stroke="#000" stroke-width="9.3" stroke-linecap="butt"/>
<line x1="1579.3" y1="205.6500000000001" x2="1596" y2="205.6500000000001" stroke="#000" stroke-width="9.3" stroke-linecap="butt"/>
<line x1="1579.3" y1="362.82000000000005" x2="1596" y2="362.82000000000005" stroke="#000" stroke-width="9.3" stroke-linecap="butt"/>
<line x1="1579.3" y1="519.9900000000001" x2="1596" y2="519.9900000000001" stroke="#000" stroke-width="9.3" stroke-linecap="butt"/>
<line x1="1579.3" y1="677.1600000000001" x2="1596" y2="677.1600000000001" stroke="#000" stroke-width="9.3" stroke-linecap="butt"/>
<line x1="1579.3" y1="834.33" x2="1596" y2="834.33" stroke="#000" stroke-width="9.3" stroke-linecap="butt"/>
<line x1="1579" y1="991.5" x2="2405" y2="991.5" stroke="#000" stroke-width="9.4" stroke-linecap="butt"/>
<line x1="1725.5" y1="991" x2="1725.5" y2="1001.5" stroke="#000" stroke-width="9" stroke-linecap="butt"/>
<line x1="1995.0" y1="991" x2="1995.0" y2="1001.5" stroke="#000" stroke-width="9" stroke-linecap="butt"/>
<line x1="2264.4" y1="991" x2="2264.4" y2="1001.5" stroke="#000" stroke-width="9" stroke-linecap="butt"/>
<text font-family='"Liberation Sans", sans-serif' font-weight="bold" font-style="normal" font-size="100" fill="#000" transform="translate(1503.88,67.78) scale(0.5194,0.5243)">1.2</text>
<text font-family='"Liberation Sans", sans-serif' font-weight="bold" font-style="normal" font-size="100" fill="#000" transform="translate(1503.88,224.43) scale(0.5194,0.5169)">1.0</text>
<text font-family='"Liberation Sans", sans-serif' font-weight="bold" font-style="normal" font-size="100" fill="#000" transform="translate(1502.81,381.60) scale(0.5235,0.5169)">0.8</text>
<text font-family='"Liberation Sans", sans-serif' font-weight="bold" font-style="normal" font-size="100" fill="#000" transform="translate(1502.79,538.77) scale(0.5275,0.5169)">0.6</text>
<text font-family='"Liberation Sans", sans-serif' font-weight="bold" font-style="normal" font-size="100" fill="#000" transform="translate(1502.85,695.94) scale(0.5119,0.5169)">0.4</text>
<text font-family='"Liberation Sans", sans-serif' font-weight="bold" font-style="normal" font-size="100" fill="#000" transform="translate(1502.79,853.11) scale(0.5275,0.5169)">0.2</text>
<text font-family='"Liberation Sans", sans-serif' font-weight="bold" font-style="normal" font-size="100" fill="#000" transform="translate(1502.79,1010.28) scale(0.5275,0.5169)">0.0</text>
<text font-family='"Liberation Sans", sans-serif' font-weight="bold" font-style="normal" font-size="100" fill="#000" transform="translate(1440.28,921.51) rotate(-90) scale(0.5042,0.5247)">Adenovirus</text>
<text font-family='"Liberation Sans", sans-serif' font-weight="bold" font-style="normal" font-size="100" fill="#000" transform="translate(1440.18,629.67) rotate(-90) scale(0.5094,0.5233)">Relative</text>
<text font-family='"Liberation Sans", sans-serif' font-weight="bold" font-style="normal" font-size="100" fill="#000" transform="translate(1440.70,418.31) rotate(-90) scale(0.5014,0.5246)">DNA</text>
<text font-family='"Liberation Sans", sans-serif' font-weight="bold" font-style="normal" font-size="100" fill="#000" transform="translate(1440.12,294.50) rotate(-90) scale(0.5259,0.5183)">Quantity</text>
<text font-family='"DejaVu Sans", sans-serif' font-weight="bold" font-style="normal" font-size="100" fill="#000" transform="translate(1689.67,906.46) scale(0.3135,0.3413)">*</text>
<text font-family='"DejaVu Sans", sans-serif' font-weight="bold" font-style="normal" font-size="100" fill="#000" transform="translate(1710.29,906.46) scale(0.3135,0.3413)">*</text>
<text font-family='"DejaVu Sans", sans-serif' font-weight="bold" font-style="normal" font-size="100" fill="#000" transform="translate(1730.91,906.46) scale(0.3135,0.3413)">*</text>
<text font-family='"DejaVu Sans", sans-serif' font-weight="bold" font-style="normal" font-size="100" fill="#000" transform="translate(1751.52,906.46) scale(0.3135,0.3413)">*</text>
<text font-family='"DejaVu Sans", sans-serif' font-weight="bold" font-style="normal" font-size="100" fill="#000" transform="translate(2244.98,865.25) scale(0.3112,0.3304)">*</text>
<text font-family='"DejaVu Sans", sans-serif' font-weight="bold" font-style="normal" font-size="100" fill="#000" transform="translate(2265.44,865.25) scale(0.3112,0.3304)">*</text>
<text font-family='"Liberation Sans", sans-serif' font-weight="bold" font-style="normal" font-size="100" fill="#000" transform="translate(1595.38,1059.95) scale(0.5042,0.5507)">Uninfected</text>
<text font-family='"Liberation Sans", sans-serif' font-weight="bold" font-style="normal" font-size="100" fill="#000" transform="translate(1918.44,1060.18) scale(0.5083,0.5183)">DMSO</text>
<text font-family='"Liberation Sans", sans-serif' font-weight="bold" font-style="normal" font-size="100" fill="#000" transform="translate(2221.25,1060.18) scale(0.5076,0.5183)">191</text>
<text font-family='"Liberation Sans", sans-serif' font-weight="bold" font-style="normal" font-size="100" fill="#000" transform="translate(43.50,1227.03) scale(0.7262,0.8718)">C</text>
<rect x="402.9" y="1545.7" width="40.70" height="699.30" fill="#808080" />
<line x1="423.0" y1="1430.0" x2="423.0" y2="1662.0" stroke="#606060" stroke-width="4.4" stroke-linecap="butt"/>
<line x1="413.5" y1="1430.0" x2="432.5" y2="1430.0" stroke="#606060" stroke-width="4.4" stroke-linecap="butt"/>
<line x1="413.5" y1="1662.0" x2="432.5" y2="1662.0" stroke="#606060" stroke-width="4.4" stroke-linecap="butt"/>
<rect x="455.9" y="2138.3" width="39.70" height="106.70" fill="#FE9D9D" />
<line x1="476.0" y1="2064.4" x2="476.0" y2="2212.0" stroke="#F98585" stroke-width="4.4" stroke-linecap="butt"/>
<line x1="466.5" y1="2064.4" x2="485.5" y2="2064.4" stroke="#F98585" stroke-width="4.4" stroke-linecap="butt"/>
<line x1="466.5" y1="2212.0" x2="485.5" y2="2212.0" stroke="#F98585" stroke-width="4.4" stroke-linecap="butt"/>
<rect x="630.3" y="1551.8" width="39.30" height="693.20" fill="#808080" />
<line x1="649.6" y1="1449.5" x2="649.6" y2="1653.3" stroke="#606060" stroke-width="4.4" stroke-linecap="butt"/>
<line x1="640.1" y1="1449.5" x2="659.1" y2="1449.5" stroke="#606060" stroke-width="4.4" stroke-linecap="butt"/>
<line x1="640.1" y1="1653.3" x2="659.1" y2="1653.3" stroke="#606060" stroke-width="4.4" stroke-linecap="butt"/>
<rect x="682.0" y="2229.6" width="39.70" height="15.40" fill="#FE9D9D" />
<line x1="701.8" y1="2217.8" x2="701.8" y2="2244.0" stroke="#F98585" stroke-width="4.4" stroke-linecap="butt"/>
<line x1="692.3" y1="2217.8" x2="711.3" y2="2217.8" stroke="#F98585" stroke-width="4.4" stroke-linecap="butt"/>
<line x1="692.3" y1="2244.0" x2="711.3" y2="2244.0" stroke="#F98585" stroke-width="4.4" stroke-linecap="butt"/>
<rect x="856.3" y="1522.6" width="39.40" height="722.40" fill="#808080" />
<line x1="875.7" y1="1360.3" x2="875.7" y2="1685.0" stroke="#606060" stroke-width="4.4" stroke-linecap="butt"/>
<line x1="866.2" y1="1360.3" x2="885.2" y2="1360.3" stroke="#606060" stroke-width="4.4" stroke-linecap="butt"/>
<line x1="866.2" y1="1685.0" x2="885.2" y2="1685.0" stroke="#606060" stroke-width="4.4" stroke-linecap="butt"/>
<rect x="908.2" y="2238.7" width="39.70" height="6.30" fill="#FE9D9D" />
<line x1="928.0" y1="2232.8" x2="928.0" y2="2244.0" stroke="#F98585" stroke-width="4.4" stroke-linecap="butt"/>
<line x1="918.5" y1="2232.8" x2="937.5" y2="2232.8" stroke="#F98585" stroke-width="4.4" stroke-linecap="butt"/>
<line x1="918.5" y1="2244.0" x2="937.5" y2="2244.0" stroke="#F98585" stroke-width="4.4" stroke-linecap="butt"/>
<rect x="1082.5" y="1565.3" width="38.90" height="679.70" fill="#808080" />
<line x1="1101.8" y1="1529.0" x2="1101.8" y2="1603.3" stroke="#606060" stroke-width="4.4" stroke-linecap="butt"/>
<line x1="1092.3" y1="1529.0" x2="1111.3" y2="1529.0" stroke="#606060" stroke-width="4.4" stroke-linecap="butt"/>
<line x1="1092.3" y1="1603.3" x2="1111.3" y2="1603.3" stroke="#606060" stroke-width="4.4" stroke-linecap="butt"/>
<rect x="1134.0" y="2211.6" width="39.60" height="33.40" fill="#FE9D9D" />
<line x1="1154.5" y1="2189.0" x2="1154.5" y2="2235.0" stroke="#F98585" stroke-width="4.4" stroke-linecap="butt"/>
<line x1="1145.0" y1="2189.0" x2="1164.0" y2="2189.0" stroke="#F98585" stroke-width="4.4" stroke-linecap="butt"/>
<line x1="1145.0" y1="2235.0" x2="1164.0" y2="2235.0" stroke="#F98585" stroke-width="4.4" stroke-linecap="butt"/>
<line x1="335.5" y1="1293.0" x2="335.5" y2="2249.5" stroke="#000" stroke-width="9" stroke-linecap="butt"/>
<line x1="326.8" y1="1296.5" x2="336" y2="1296.5" stroke="#000" stroke-width="8" stroke-linecap="butt"/>
<line x1="326.8" y1="1432.0" x2="336" y2="1432.0" stroke="#000" stroke-width="8" stroke-linecap="butt"/>
<line x1="326.8" y1="1567.5" x2="336" y2="1567.5" stroke="#000" stroke-width="8" stroke-linecap="butt"/>
<line x1="326.8" y1="1703.0" x2="336" y2="1703.0" stroke="#000" stroke-width="8" stroke-linecap="butt"/>
<line x1="326.8" y1="1838.5" x2="336" y2="1838.5" stroke="#000" stroke-width="8" stroke-linecap="butt"/>
<line x1="326.8" y1="1974.0" x2="336" y2="1974.0" stroke="#000" stroke-width="8" stroke-linecap="butt"/>
<line x1="326.8" y1="2109.5" x2="336" y2="2109.5" stroke="#000" stroke-width="8" stroke-linecap="butt"/>
<line x1="325.7" y1="2245.0" x2="1244.0" y2="2245.0" stroke="#000" stroke-width="8.8" stroke-linecap="butt"/>
<line x1="448.5" y1="2245" x2="448.5" y2="2256.7" stroke="#000" stroke-width="8.5" stroke-linecap="butt"/>
<line x1="675.0" y1="2245" x2="675.0" y2="2256.7" stroke="#000" stroke-width="8.5" stroke-linecap="butt"/>
<line x1="902.0" y1="2245" x2="902.0" y2="2256.7" stroke="#000" stroke-width="8.5" stroke-linecap="butt"/>
<line x1="1127.5" y1="2245" x2="1127.5" y2="2256.7" stroke="#000" stroke-width="8.5" stroke-linecap="butt"/>
<text font-family='"Liberation Sans", sans-serif' font-weight="bold" font-style="normal" font-size="100" fill="#000" transform="translate(255.40,1315.00) scale(0.4669,0.4928)">1.4</text>
<text font-family='"Liberation Sans", sans-serif' font-weight="bold" font-style="normal" font-size="100" fill="#000" transform="translate(255.42,1450.10) scale(0.4806,0.4886)">1.2</text>
<text font-family='"Liberation Sans", sans-serif' font-weight="bold" font-style="normal" font-size="100" fill="#000" transform="translate(255.31,1585.52) scale(0.4814,0.4775)">1.0</text>
<text font-family='"Liberation Sans", sans-serif' font-weight="bold" font-style="normal" font-size="100" fill="#000" transform="translate(253.62,1721.50) scale(0.4939,0.5000)">0.8</text>
<text font-family='"Liberation Sans", sans-serif' font-weight="bold" font-style="normal" font-size="100" fill="#000" transform="translate(253.62,1857.31) scale(0.4954,0.4859)">0.6</text>
<text font-family='"Liberation Sans", sans-serif' font-weight="bold" font-style="normal" font-size="100" fill="#000" transform="translate(253.68,1992.31) scale(0.4793,0.4859)">0.4</text>
<text font-family='"Liberation Sans", sans-serif' font-weight="bold" font-style="normal" font-size="100" fill="#000" transform="translate(253.42,2128.31) scale(0.4939,0.4859)">0.2</text>
<text font-family='"Liberation Sans", sans-serif' font-weight="bold" font-style="normal" font-size="100" fill="#000" transform="translate(253.72,2263.81) scale(0.4962,0.4930)">0.0</text>
<rect x="574.1" y="1280.4" width="36.50" height="49.80" fill="#808080" />
<rect x="829.2" y="1280.4" width="35.60" height="49.80" fill="#FE9D9D" />
<text font-family='"Liberation Sans", sans-serif' font-weight="bold" font-style="normal" font-size="100" fill="#000" transform="translate(630.12,1324.13) scale(0.4834,0.4704)">DMSO</text>
<text font-family='"Liberation Sans", sans-serif' font-weight="bold" font-style="normal" font-size="100" fill="#000" transform="translate(884.20,1324.13) scale(0.5000,0.4704)">191</text>
<text font-family='"Liberation Sans", sans-serif' font-weight="bold" font-style="normal" font-size="100" fill="#000" transform="translate(195.71,2210.59) rotate(-90) scale(0.4700,0.4863)">Relative</text>
<text font-family='"Liberation Sans", sans-serif' font-weight="bold" font-style="normal" font-size="100" fill="#000" transform="translate(195.71,2017.03) rotate(-90) scale(0.4755,0.4945)">Adenoviral</text>
<text font-family='"Liberation Sans", sans-serif' font-weight="bold" font-style="normal" font-size="100" fill="#000" transform="translate(195.72,1757.62) rotate(-90) scale(0.4595,0.4771)">Late</text>
<text font-family='"Liberation Sans", sans-serif' font-weight="bold" font-style="normal" font-size="100" fill="#000" transform="translate(196.20,1649.16) rotate(-90) scale(0.4512,0.4841)">RNA</text>
<text font-family='"Liberation Sans", sans-serif' font-weight="bold" font-style="normal" font-size="100" fill="#000" transform="translate(195.61,1537.21) rotate(-90) scale(0.4437,0.4806)">Expression</text>
<text font-family='"DejaVu Sans", sans-serif' font-weight="bold" font-style="normal" font-size="100" fill="#000" transform="translate(455.74,2040.47) scale(0.2295,0.2739)">*</text>
<text font-family='"DejaVu Sans", sans-serif' font-weight="bold" font-style="normal" font-size="100" fill="#000" transform="translate(470.83,2040.47) scale(0.2295,0.2739)">*</text>
<text font-family='"DejaVu Sans", sans-serif' font-weight="bold" font-style="normal" font-size="100" fill="#000" transform="translate(485.92,2040.47) scale(0.2295,0.2739)">*</text>
<text font-family='"DejaVu Sans", sans-serif' font-weight="bold" font-style="normal" font-size="100" fill="#000" transform="translate(681.13,2186.16) scale(0.2373,0.2913)">*</text>
<text font-family='"DejaVu Sans", sans-serif' font-weight="bold" font-style="normal" font-size="100" fill="#000" transform="translate(696.73,2186.16) scale(0.2373,0.2913)">*</text>
<text font-family='"DejaVu Sans", sans-serif' font-weight="bold" font-style="normal" font-size="100" fill="#000" transform="translate(712.34,2186.16) scale(0.2373,0.2913)">*</text>
<text font-family='"DejaVu Sans", sans-serif' font-weight="bold" font-style="normal" font-size="100" fill="#000" transform="translate(899.83,2205.91) scale(0.2340,0.2826)">*</text>
<text font-family='"DejaVu Sans", sans-serif' font-weight="bold" font-style="normal" font-size="100" fill="#000" transform="translate(915.22,2205.91) scale(0.2340,0.2826)">*</text>
<text font-family='"DejaVu Sans", sans-serif' font-weight="bold" font-style="normal" font-size="100" fill="#000" transform="translate(930.61,2205.91) scale(0.2340,0.2826)">*</text>
<text font-family='"DejaVu Sans", sans-serif' font-weight="bold" font-style="normal" font-size="100" fill="#000" transform="translate(946.00,2205.91) scale(0.2340,0.2826)">*</text>
<text font-family='"DejaVu Sans", sans-serif' font-weight="bold" font-style="normal" font-size="100" fill="#000" transform="translate(1133.53,2165.56) scale(0.2340,0.2913)">*</text>
<text font-family='"DejaVu Sans", sans-serif' font-weight="bold" font-style="normal" font-size="100" fill="#000" transform="translate(1148.92,2165.56) scale(0.2340,0.2913)">*</text>
<text font-family='"DejaVu Sans", sans-serif' font-weight="bold" font-style="normal" font-size="100" fill="#000" transform="translate(1164.30,2165.56) scale(0.2340,0.2913)">*</text>
<text font-family='"Liberation Sans", sans-serif' font-weight="bold" font-style="normal" font-size="100" fill="#000" transform="translate(394.69,2308.54) scale(0.4513,0.4563)">100K</text>
<text font-family='"Liberation Sans", sans-serif' font-weight="bold" font-style="normal" font-size="100" fill="#000" transform="translate(619.22,2308.53) scale(0.4542,0.4658)">Fiber</text>
<text font-family='"Liberation Sans", sans-serif' font-weight="bold" font-style="normal" font-size="100" fill="#000" transform="translate(830.13,2308.54) scale(0.4664,0.4629)">Hexon</text>
<text font-family='"Liberation Sans", sans-serif' font-weight="bold" font-style="normal" font-size="100" fill="#000" transform="translate(1048.32,2308.54) scale(0.4684,0.4629)">Penton</text>
<text font-family='"Liberation Sans", sans-serif' font-weight="bold" font-style="normal" font-size="100" fill="#000" transform="translate(1310.03,1225.80) scale(0.8525,0.8319)">D</text>
<text font-family='"Liberation Sans", sans-serif' font-weight="normal" font-style="normal" font-size="100" fill="#000" transform="translate(1823.24,1236.81) scale(0.4697,0.4859)">DMSO</text>
<line x1="1774.3" y1="1258.6" x2="2009.1" y2="1258.6" stroke="#000" stroke-width="4.8" stroke-linecap="butt"/>
<text font-family='"Liberation Sans", sans-serif' font-weight="normal" font-style="normal" font-size="100" fill="#000" transform="translate(2092.83,1271.94) rotate(-90) scale(0.4175,0.4690)">191</text>
<text font-family='"Liberation Sans", sans-serif' font-weight="normal" font-style="normal" font-size="100" fill="#000" transform="translate(1581.80,1327.72) scale(0.4749,0.4781)">HAdvC5:</text>
<text font-family='"Liberation Sans", sans-serif' font-weight="normal" font-style="normal" font-size="100" fill="#000" transform="translate(1817.20,1330.57) scale(0.5240,0.5857)">-</text>
<text font-family='"Liberation Sans", sans-serif' font-weight="normal" font-style="normal" font-size="100" fill="#000" transform="translate(1931.45,1329.71) scale(0.4896,0.4673)">+</text>
<text font-family='"Liberation Sans", sans-serif' font-weight="normal" font-style="normal" font-size="100" fill="#000" transform="translate(2063.66,1327.92) scale(0.4688,0.4694)">+</text>
<text font-family='"Liberation Sans", sans-serif' font-weight="normal" font-style="normal" font-size="100" fill="#000" transform="translate(1596.12,1496.11) scale(0.4692,0.4929)">α-E1A</text>
<text font-family='"Liberation Sans", sans-serif' font-weight="normal" font-style="normal" font-size="100" fill="#000" transform="translate(1520.22,1627.01) scale(0.4692,0.4873)">α-GAPDH</text>
<text font-family='"Liberation Sans", sans-serif' font-weight="normal" font-style="normal" font-size="100" fill="#000" transform="translate(1778.10,1735.52) scale(0.5373,0.5789)">DMSO</text>
<line x1="1766.6" y1="1753.2" x2="1957.5" y2="1753.2" stroke="#000" stroke-width="6.5" stroke-linecap="butt"/>
<text font-family='"Liberation Sans", sans-serif' font-weight="normal" font-style="normal" font-size="100" fill="#000" transform="translate(2045.17,1770.02) rotate(-90) scale(0.4773,0.5338)">191</text>
<text font-family='"Liberation Sans", sans-serif' font-weight="normal" font-style="normal" font-size="100" fill="#000" transform="translate(1552.64,1821.36) scale(0.5453,0.5370)">HAdvC5</text>
<text font-family='"Liberation Sans", sans-serif' font-weight="normal" font-style="normal" font-size="100" fill="#000" transform="translate(1810.56,1822.71) scale(0.5600,0.5571)">-</text>
<text font-family='"Liberation Sans", sans-serif' font-weight="normal" font-style="normal" font-size="100" fill="#000" transform="translate(1890.51,1819.67) scale(0.5188,0.5082)">+</text>
<text font-family='"Liberation Sans", sans-serif' font-weight="normal" font-style="normal" font-size="100" fill="#000" transform="translate(2010.97,1819.67) scale(0.5250,0.5082)">+</text>
<text font-family='"Liberation Serif", serif' font-weight="normal" font-style="italic" font-size="100" fill="#000" transform="translate(1546.34,1956.49) scale(0.5536,0.5110)">α<tspan font-family="Liberation Sans" font-style="normal">-hexon</tspan></text>
<text font-family='"Liberation Serif", serif' font-weight="normal" font-style="italic" font-size="100" fill="#000" transform="translate(1526.46,2219.96) scale(0.5469,0.5370)">α<tspan font-family="Liberation Sans" font-style="normal">-tubulin</tspan></text>
<defs>
<filter id="bl2" x="-20%" y="-20%" width="140%" height="140%"><feGaussianBlur stdDeviation="2"/></filter>
<filter id="bl3" x="-30%" y="-30%" width="160%" height="160%"><feGaussianBlur stdDeviation="3"/></filter>
<filter id="bl4" x="-30%" y="-30%" width="160%" height="160%"><feGaussianBlur stdDeviation="4"/></filter>
<filter id="bl6" x="-30%" y="-40%" width="160%" height="180%"><feGaussianBlur stdDeviation="6"/></filter>
<filter id="bl10" x="-40%" y="-40%" width="180%" height="180%"><feGaussianBlur stdDeviation="10"/></filter>
<filter id="bl14" x="-40%" y="-40%" width="180%" height="180%"><feGaussianBlur stdDeviation="14"/></filter>
<filter id="nzA" x="0" y="0" width="100%" height="100%" color-interpolation-filters="sRGB">
 <feTurbulence type="fractalNoise" baseFrequency="0.06" numOctaves="2" seed="7"/>
 <feColorMatrix type="matrix" values="0 0 0 0 0  0 0 0 0 0  0 0 0 0 0  -2.5 0 0 0 1.4"/>
 <feGaussianBlur stdDeviation="1.5"/>
</filter>
<filter id="nzB" x="0" y="0" width="100%" height="100%" color-interpolation-filters="sRGB">
 <feTurbulence type="fractalNoise" baseFrequency="0.06" numOctaves="2" seed="11"/>
 <feColorMatrix type="matrix" values="0 0 0 0 1  0 0 0 0 1  0 0 0 0 1  -2.5 0 0 0 1.4"/>
 <feGaussianBlur stdDeviation="1.5"/>
</filter>
<filter id="nzH" x="0" y="0" width="100%" height="100%" color-interpolation-filters="sRGB">
 <feTurbulence type="fractalNoise" baseFrequency="0.17" numOctaves="2" seed="3"/>
 <feColorMatrix type="matrix" values="0 0 0 0 0  0 0 0 0 0  0 0 0 0 0  -2.8 0 0 0 1.5"/>
 <feGaussianBlur stdDeviation="0.8"/>
</filter>
<clipPath id="cE1A"><rect x="1773.5" y="1378" width="370.5" height="157"/></clipPath>
<clipPath id="cGAP"><rect x="1768" y="1577" width="376" height="60.5"/></clipPath>
<clipPath id="cHEX"><rect x="1770" y="1852.5" width="305.5" height="284"/></clipPath>
<clipPath id="cTUB"><rect x="1770" y="2164.5" width="305.5" height="81"/></clipPath>
<linearGradient id="gE1A" x1="0" x2="1" y1="0" y2="0">
 <stop offset="0" stop-color="#d8d8d8"/>
 <stop offset="0.28" stop-color="#d0d0d0"/>
 <stop offset="0.36" stop-color="#ababab"/>
 <stop offset="0.62" stop-color="#a0a0a0"/>
 <stop offset="0.63" stop-color="#b0b0b0"/>
 <stop offset="0.66" stop-color="#a8a8a8"/>
 <stop offset="0.92" stop-color="#a8a8a8"/>
 <stop offset="1" stop-color="#bcbcbc"/>
</linearGradient>
<linearGradient id="gGAP" x1="0" x2="1" y1="0" y2="0">
 <stop offset="0" stop-color="#f0f0f0"/>
 <stop offset="0.06" stop-color="#d8d8d8"/>
 <stop offset="0.28" stop-color="#c8c8c8"/>
 <stop offset="0.36" stop-color="#a0a0a0"/>
 <stop offset="0.62" stop-color="#7e7e7e"/>
 <stop offset="0.66" stop-color="#8a8a8a"/>
 <stop offset="0.88" stop-color="#808080"/>
 <stop offset="1" stop-color="#a0a0a0"/>
</linearGradient>
<linearGradient id="gSm" x1="0" x2="0" y1="0" y2="1">
 <stop offset="0" stop-color="#2e2e2e"/>
 <stop offset="0.55" stop-color="#4c4c4c"/>
 <stop offset="1" stop-color="#7a7a7a"/>
</linearGradient>
<linearGradient id="gSm2" x1="0" x2="0" y1="0" y2="1">
 <stop offset="0" stop-color="#3c3c3c"/>
 <stop offset="0.55" stop-color="#5c5c5c"/>
 <stop offset="1" stop-color="#858585"/>
</linearGradient>
<filter id="nzH2" x="0" y="0" width="100%" height="100%" color-interpolation-filters="sRGB">
 <feTurbulence type="fractalNoise" baseFrequency="0.11" numOctaves="3" seed="5"/>
 <feColorMatrix type="matrix" values="0 0 0 0 0  0 0 0 0 0  0 0 0 0 0  -3.0 0 0 0 1.62"/>
 <feGaussianBlur stdDeviation="1.4"/>
</filter>
<radialGradient id="rgHEX" cx="0.45" cy="0.62" r="0.62">
 <stop offset="0" stop-color="#fff"/>
 <stop offset="0.55" stop-color="#ddd"/>
 <stop offset="1" stop-color="#666"/>
</radialGradient>
<mask id="mHEX"><rect x="1770" y="1852.5" width="305.5" height="284" fill="url(#rgHEX)"/></mask>
</defs>
<!-- E1A blot -->
<rect x="1763" y="1371" width="388.8" height="170.5" rx="3" fill="#000"/>
<g clip-path="url(#cE1A)">
 <rect x="1773.5" y="1378" width="370.5" height="157" fill="url(#gE1A)"/>
 <rect x="1773.5" y="1378" width="370.5" height="157" filter="url(#nzA)" opacity="0.13"/>
 <rect x="1773.5" y="1378" width="370.5" height="157" filter="url(#nzB)" opacity="0.18"/>
 <ellipse cx="1948" cy="1440" rx="60" ry="22" fill="#666" opacity="0.6" filter="url(#bl10)"/>
 <path d="M1900,1462 L1995,1462 L1990,1525 Q1986,1540 1968,1540 L1928,1540 Q1908,1540 1905,1525 Z" fill="url(#gSm)" filter="url(#bl6)"/>
 <path d="M2018,1462 L2128,1462 L2122,1525 Q2118,1540 2100,1540 L2045,1540 Q2025,1540 2022,1525 Z" fill="url(#gSm2)" filter="url(#bl6)"/>
 <rect x="1896" y="1440.5" width="101" height="37" rx="22" ry="18.5" fill="#0c0c0c" filter="url(#bl4)"/>
 <rect x="2019" y="1443" width="107" height="33" rx="22" ry="16.5" fill="#161616" filter="url(#bl4)"/>
 <rect x="2006.5" y="1378" width="3" height="157" fill="#b8b8b8" opacity="0.5" filter="url(#bl2)"/>
</g>
<path d="M2161.8,1456.3 L2167.7,1453.7 L2167.7,1459 Z" fill="#000"/>
<!-- GAPDH blot -->
<rect x="1760.7" y="1571" width="391.3" height="73.5" rx="3" fill="#000"/>
<g clip-path="url(#cGAP)">
 <rect x="1768" y="1577" width="376" height="60.5" fill="url(#gGAP)"/>
 <rect x="1768" y="1577" width="376" height="60.5" filter="url(#nzA)" opacity="0.12"/>
 <path d="M1905,1595 L1990,1595 L1984,1645 L1912,1645 Z" fill="#3c3c3c" filter="url(#bl6)"/>
 <path d="M2015,1595 L2115,1595 L2105,1645 L2025,1645 Z" fill="#4e4e4e" filter="url(#bl6)"/>
 <ellipse cx="1817" cy="1591" rx="34" ry="8.5" fill="#5a5a5a" filter="url(#bl4)"/>
 <ellipse cx="1944" cy="1592" rx="46" ry="14" fill="#050505" filter="url(#bl4)"/>
 <ellipse cx="2062" cy="1591" rx="46" ry="12.5" fill="#1a1a1a" filter="url(#bl4)"/>
 <rect x="2003" y="1577" width="2" height="60.5" fill="#9a9a9a" opacity="0.5"/>
</g>
<!-- hexon blot -->
<rect x="1763" y="1845.3" width="319.4" height="298.3" rx="2" fill="#000"/>
<g clip-path="url(#cHEX)">
 <rect x="1770" y="1852.5" width="305.5" height="284" fill="#fdfdfd"/>
 <rect x="1770" y="1852.5" width="305.5" height="284" filter="url(#nzH2)" opacity="0.3" mask="url(#mHEX)"/>
 <ellipse cx="1880" cy="1935.5" rx="10" ry="10.5" fill="#080808" filter="url(#bl2)"/>
 <ellipse cx="1925" cy="1936" rx="10.5" ry="11" fill="#080808" filter="url(#bl2)"/>
 <ellipse cx="1902" cy="1943" rx="27" ry="9.5" fill="#0a0a0a" filter="url(#bl2)"/>
 <ellipse cx="1902" cy="1951" rx="34" ry="5" fill="#555" opacity="0.5" filter="url(#bl3)"/>
</g>
<path d="M2086,1941.2 L2093,1937.7 L2093,1944.7 Z" fill="#000"/>
<!-- tubulin blot -->
<rect x="1763" y="2157.4" width="319.4" height="95" rx="2" fill="#000"/>
<g clip-path="url(#cTUB)">
 <rect x="1770" y="2164.5" width="305.5" height="81" fill="#fdfdfd"/>
 <rect x="1770" y="2164.5" width="305.5" height="81" filter="url(#nzH2)" opacity="0.18"/>
 <ellipse cx="1822" cy="2205.5" rx="33" ry="10" fill="#080808" filter="url(#bl2)"/>
 <ellipse cx="1893" cy="2207" rx="17" ry="9.5" fill="#0c0c0c" filter="url(#bl2)"/>
 <ellipse cx="1924" cy="2206" rx="16" ry="7" fill="#777" filter="url(#bl3)"/>
 <ellipse cx="2007" cy="2199" rx="35" ry="8.5" fill="#121212" filter="url(#bl2)"/>
 <rect x="1956.5" y="2193" width="3" height="13" fill="#333" filter="url(#bl2)"/>
</g>

</svg>
</body></html>
